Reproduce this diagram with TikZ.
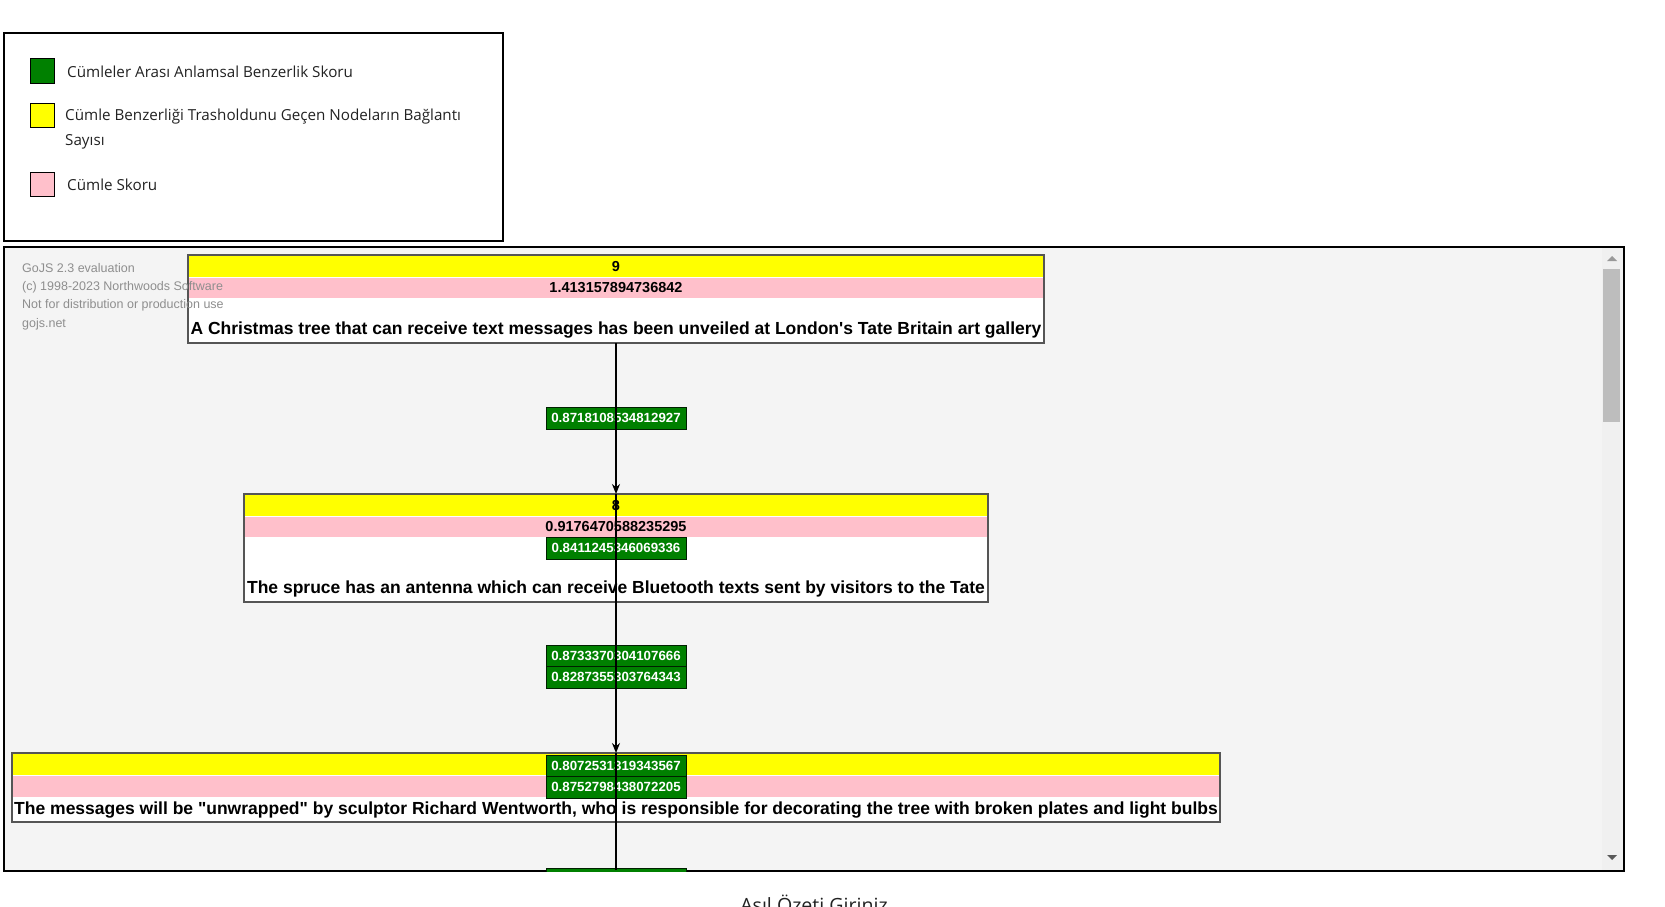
\documentclass[tikz,border=0pt]{standalone}
\usepackage{fontspec}
\setmainfont{Liberation Sans}[Ligatures=TeXOff]
\newfontfamily\legendfont{Open Sans}
\usetikzlibrary{arrows.meta}
\definecolor{gogreen}{HTML}{008000}
\definecolor{goyellow}{HTML}{FFFF00}
\definecolor{gopink}{HTML}{FFC0CB}
\definecolor{panelbg}{HTML}{F4F4F4}
\definecolor{legendtext}{HTML}{222222}
\definecolor{wmgray}{HTML}{8E8E8E}
\definecolor{nodeborder}{HTML}{555555}
\tikzset{
  box/.style={inner sep=0pt, outer sep=0pt, anchor=north west},
  swatch/.style={draw=black, line width=1pt, minimum width=24pt, minimum height=24pt, inner sep=0pt},
  legtext/.style={anchor=west, inner sep=0pt, text=legendtext, font=\legendfont\fontsize{15.2}{18}\selectfont},
  gonode/.style={box, draw=nodeborder, line width=1.5pt, fill=white},
  yband/.style={box, fill=goyellow, font=\bfseries\fontsize{14.5}{16}\selectfont},
  pband/.style={box, fill=gopink, font=\bfseries\fontsize{14.5}{16}\selectfont},
  sentence/.style={inner sep=0pt, font=\bfseries\fontsize{17.5}{20}\selectfont},
  glabel/.style={draw=black!75!gogreen, line width=1pt, fill=gogreen, text=white, minimum width=140pt, minimum height=22pt, inner sep=0pt, font=\bfseries\fontsize{13.3}{15}\selectfont},
  wm/.style={anchor=west, inner sep=0pt, text=wmgray, font=\fontsize{12.5}{14}\selectfont},
  link/.style={draw=black, line width=1.6pt},
  tip/.style={-{Stealth[length=10pt,width=8pt]}}
}
\begin{document}
\begin{tikzpicture}[x=1pt,y=-1pt]
\useasboundingbox (0,0) rectangle (1665,907);
% legend
\node[box, draw=black, line width=1.2pt, minimum width=499pt, minimum height=208pt] (legend) at (4,33) {};
\node[swatch, fill=gogreen] (sgreen) at (42,71) {};
\node[legtext] (tgreen) at (67,72) {Cümleler Arası Anlamsal Benzerlik Skoru};
\node[swatch, fill=goyellow] (syellow) at (42,115) {};
\node[legtext] (tyellow1) at (65,117) {Cümle Benzerliği Trasholdunu Geçen Nodeların Bağlantı};
\node[legtext] (tyellow2) at (65,142) {Sayısı};
\node[swatch, fill=gopink] (spink) at (42,184) {};
\node[legtext] (tpink) at (67,185) {Cümle Skoru};
% panel
\node[box, draw=black, line width=1.2pt, fill=panelbg, minimum width=1620pt, minimum height=624pt] (panel) at (4,247) {};
\node[box, fill=black!6, minimum width=21pt, minimum height=622pt] (track) at (1602,248) {};
\node[box, fill=black!26, minimum width=17pt, minimum height=153pt] (thumb) at (1603,269) {};
\fill[black!40] (1607,261) -- (1617,261) -- (1612,256) -- cycle;
\fill[black!65] (1607,855) -- (1617,855) -- (1612,860) -- cycle;
% node 1
\node[gonode, minimum width=856pt, minimum height=88pt] (n1) at (188,255) {};
\node[yband, minimum width=854pt, minimum height=21pt] (n1y) at (189,256) {9};
\node[pband, minimum width=854pt, minimum height=20pt] (n1p) at (189,278) {1.413157894736842};
\node[sentence] (n1t) at (616,330) {A Christmas tree that can receive text messages has been unveiled at London's Tate Britain art gallery};
% node 2
\node[gonode, minimum width=744pt, minimum height=108pt] (n2) at (244,494) {};
\node[yband, minimum width=742pt, minimum height=21pt] (n2y) at (245,495) {8};
\node[pband, minimum width=742pt, minimum height=20pt] (n2p) at (245,517) {0.9176470588235295};
\node[sentence] (n2t) at (616,589) {The spruce has an antenna which can receive Bluetooth texts sent by visitors to the Tate};
% node 3
\node[gonode, minimum width=1208pt, minimum height=69pt] (n3) at (12,753) {};
\node[yband, minimum width=1206pt, minimum height=21pt] (n3y) at (13,754) {};
\node[pband, minimum width=1206pt, minimum height=21pt] (n3p) at (13,776) {1.1176470588235292};
\node[sentence] (n3t) at (616,810) {The messages will be "unwrapped" by sculptor Richard Wentworth, who is responsible for decorating the tree with broken plates and light bulbs};
% green labels
\node[glabel] (l1) at (616,418) {0.8718108534812927};
\node[glabel] (l2) at (616,548) {0.8411245346069336};
\node[glabel] (l3) at (616,656) {0.8733370304107666};
\node[glabel] (l4) at (616,677) {0.8287355303764343};
\node[glabel] (l5) at (616,766) {0.8072531319343567};
\node[glabel] (l6) at (616,787) {0.8752798438072205};
\begin{scope}
\clip (4,247) rectangle (1624,871);
\node[glabel] (l7) at (616,879) {};
\end{scope}
% watermark
\node[wm] (w1) at (22,268) {GoJS 2.3 evaluation};
\node[wm] (w2) at (22,287) {(c) 1998-2023 Northwoods Software};
\node[wm] (w3) at (22,305) {Not for distribution or production use};
\node[wm] (w4) at (22,324) {gojs.net};
% links
\coordinate (lend) at (616,870);
\draw[link, tip] (n1.south) -- (n2.north);
\draw[link, tip] (n2.north) -- (n3.north);
\draw[link] (n3.north) -- (lend);
% bottom caption
\node[anchor=base, inner sep=0pt, text=legendtext, font=\legendfont\fontsize{19.6}{22}\selectfont] (asil) at (814,912) {Asıl Özeti Giriniz};
\end{tikzpicture}
\end{document}
